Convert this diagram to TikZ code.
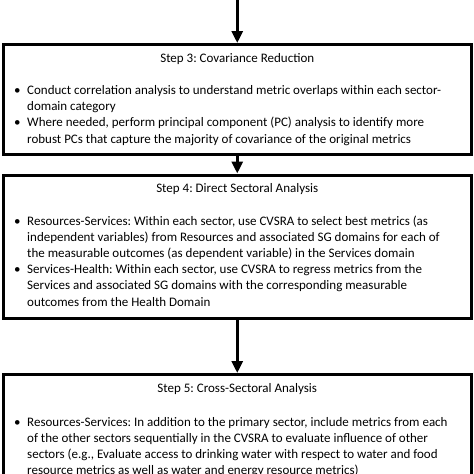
\documentclass[tikz,border=0pt]{standalone}
\usepackage{fontspec}
\setmainfont{Carlito}
\usetikzlibrary{positioning, arrows.meta}
\frenchspacing

% bullet hung left of the text start
\newcommand{\bul}{\llap{\textbullet\hspace{6.5pt}}}

\tikzset{
  stepbox/.style={draw=black, line width=3pt, minimum width=467.5pt, inner sep=0pt, anchor=north},
  steptitle/.style={font=\fontsize{13}{16.2}\selectfont, inner sep=0pt, anchor=base},
  steptext/.style={font=\fontsize{13}{16.2}\selectfont, align=left, inner sep=0pt, anchor=base west},
  flow/.style={line width=3pt, -{Triangle[width=11pt,length=12pt]}}
}

\begin{document}
\begin{tikzpicture}[x=1pt, y=-1pt]
\clip (0,0) rectangle (474,474);

% step boxes
\node[stepbox, minimum height=110pt] (s3) at (237.25,43) {};
\node[stepbox, minimum height=143.5pt] (s4) at (237.25,173.5) {};
\node[stepbox, minimum height=130pt] (s5) at (237.25,373) {};

% titles
\node[steptitle] (t3) at ([yshift=-19.5pt]s3.north) {Step 3: Covariance Reduction};
\node[steptitle] (t4) at ([yshift=-19pt]s4.north) {Step 4: Direct Sectoral Analysis};
\node[steptitle] (t5) at ([yshift=-19pt]s5.north) {Step 5: Cross-Sectoral Analysis};

% bullet texts (placed by the baseline of their last line)
\node[steptext] (b3) at (27,143.1) {\bul Conduct correlation analysis to understand metric overlaps within each sector-\\
domain category\\
\bul Where needed, perform principal component (PC) analysis to identify more\\
robust PCs that capture the majority of covariance of the original metrics};
\node[steptext] (b4) at (27,306) {\bul Resources-Services: Within each sector, use CVSRA to select best metrics (as\\
independent variables) from Resources and associated SG domains for each of\\
the measurable outcomes (as dependent variable) in the Services domain\\
\bul Services-Health: Within each sector, use CVSRA to regress metrics from the\\
Services and associated SG domains with the corresponding measurable\\
outcomes from the Health Domain};
\node[steptext] (b5) at (27,474.6) {\bul Resources-Services: In addition to the primary sector, include metrics from each\\
of the other sectors sequentially in the CVSRA to evaluate influence of other\\
sectors (e.g., Evaluate access to drinking water with respect to water and food\\
resource metrics as well as water and energy resource metrics)};

% connectors
\coordinate (in) at (237.25,-2);
\draw[flow] (in) -- (s3);
\draw[flow] (s3) -- (s4);
\draw[flow] (s4) -- (s5);
\end{tikzpicture}
\end{document}
